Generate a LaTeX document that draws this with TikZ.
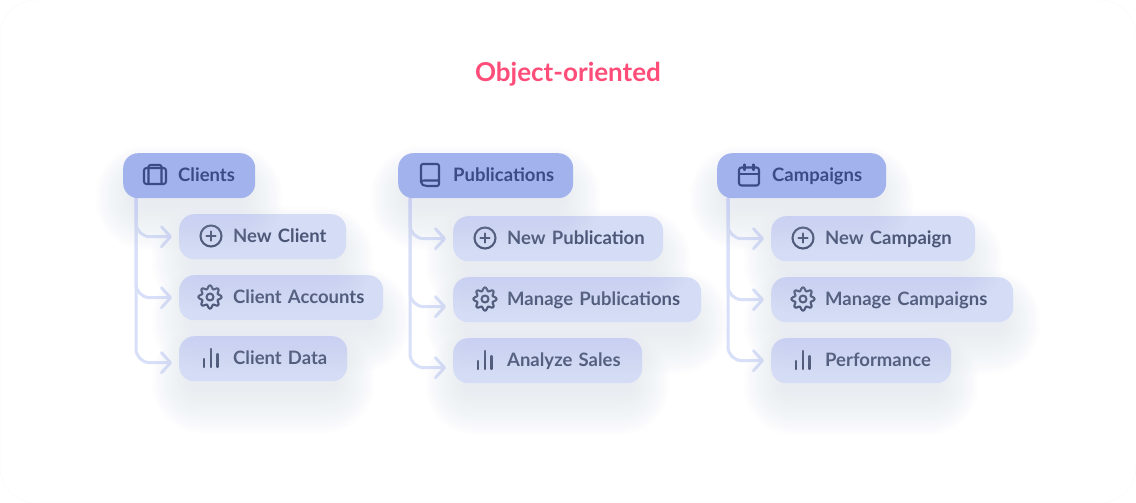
\documentclass[tikz,border=0pt]{standalone}
\usepackage{fontspec}
\setmainfont{Lato}
\usetikzlibrary{arrows.meta,backgrounds}
\definecolor{headfill}{HTML}{A2B2EC}
\definecolor{headink}{HTML}{3C4B86}
\definecolor{itemfill}{HTML}{D5DCF6}
\definecolor{itemink}{HTML}{4B5676}
\definecolor{branchblue}{HTML}{D8DFF8}
\definecolor{shadeblue}{HTML}{C8CFF2}
\definecolor{titlepink}{HTML}{FF4D79}
\tikzset{
  headbox/.style={fill=headfill, text=headink, rounded corners=15pt, anchor=north west,
    minimum height=45pt, inner xsep=0pt, inner ysep=0pt, text width=#1, align=left,
    text height=15pt, text depth=3pt, font=\fontsize{18.5}{20}\selectfont\bfseries,
    execute at begin node={\hspace*{55pt}}},
  itembox/.style={fill=itemfill, text=itemink, rounded corners=15pt, anchor=north west,
    minimum height=45pt, inner xsep=0pt, inner ysep=0pt, text width=#1, align=left,
    text height=15pt, text depth=3pt, font=\fontsize{18.5}{20}\selectfont\bfseries,
    execute at begin node={\hspace*{54pt}}},
  branch/.style={draw=branchblue, line width=3pt, rounded corners=14pt, line cap=round,
    -{Straight Barb[length=9pt,width=20pt,line width=3pt,round]}, shorten >=7pt},
  icon/.style={draw=itemink, line width=2.1pt, line cap=round, line join=round},
  headicon/.style={draw=headink, line width=2.1pt, line cap=round, line join=round},
  plusicon/.pic={
    \draw[icon] (0,0) circle (10.5);
    \draw[icon] (-4.5,0) -- (4.5,0) (0,-4.5) -- (0,4.5);
  },
  gearicon/.pic={
    \draw[icon, smooth, samples=96, domain=0:360] plot ({(9.9+1.7*cos(8*\x))*cos(\x)},{(9.9+1.7*cos(8*\x))*sin(\x)}) -- cycle;
    \draw[icon] (0,0) circle (3.5);
  },
  barsicon/.pic={
    \draw[icon] (-7,9) -- (-7,1) (0,9) -- (0,-9) (6.5,9) -- (6.5,-4);
  },
  caseicon/.pic={
    \draw[headicon, rounded corners=2.5pt] (-11,-7) rectangle (11,9);
    \draw[headicon, rounded corners=2pt] (-6.5,9) -- (-6.5,-10) -- (6.5,-10) -- (6.5,9);
  },
  bookicon/.pic={
    \draw[headicon, rounded corners=2pt] (-9,7) -- (-9,-11) -- (9,-11) -- (9,11) -- (-5,11) -- (-9,9) -- (-9,7);
    \draw[headicon] (-9,7) .. controls (-9,6) and (-8,5.5) .. (-6,5.5) -- (9,5.5);
  },
  calicon/.pic={
    \draw[headicon, rounded corners=2.5pt] (-10,-7.5) rectangle (10,10.5);
    \draw[headicon] (-10,-1) -- (10,-1) (-4.5,-10.5) -- (-4.5,-5) (4.5,-10.5) -- (4.5,-5);
  },
}
% x, y and width of the box that gets the shade
\newcommand{\softshade}[3]{
  \foreach \r in {-10,-7,...,32}
    \fill[shadeblue, opacity=.025, rounded corners={(18+\r)*1pt}]
      ({#1-.85*\r},{#2+20-.85*\r}) rectangle ({#1+#3+.85*\r},{#2+65+\r});
}
\begin{document}
\begin{tikzpicture}[x=1pt,y=-1pt]
\useasboundingbox (0,0) rectangle (1136,503);
\node[text=titlepink, font=\fontsize{26}{30}\selectfont\bfseries] (title) at (568,74) {Object-oriented};

% first column
\softshade{179}{336}{168}
\node[itembox=168] (clientdata) at (179,336) {Client Data};
\pic at (211,358) {barsicon};
\softshade{179}{275}{204}
\node[itembox=204] (clientaccounts) at (179,275) {Client Accounts};
\pic at (210,297) {gearicon};
\softshade{179}{214}{167}
\node[itembox=167] (newclient) at (179,214) {New Client};
\pic at (211,236) {plusicon};
\softshade{123}{153}{132}
\node[headbox=132] (clients) at (123,153) {Clients};
\pic at (155,175) {caseicon};

% second column
\softshade{453}{338}{189}
\node[itembox=189] (analyzesales) at (453,338) {Analyze Sales};
\pic at (485,360) {barsicon};
\softshade{453}{277}{248}
\node[itembox=248] (managepubs) at (453,277) {Manage Publications};
\pic at (485,299) {gearicon};
\softshade{453}{216}{210}
\node[itembox=210] (newpub) at (453,216) {New Publication};
\pic at (485,238) {plusicon};
\softshade{398}{153}{175}
\node[headbox=175] (publications) at (398,153) {Publications};
\pic at (430,175) {bookicon};

% third column
\softshade{771}{338}{180}
\node[itembox=180] (performance) at (771,338) {Performance};
\pic at (803,360) {barsicon};
\softshade{771}{277}{242}
\node[itembox=242] (managecamps) at (771,277) {Manage Campaigns};
\pic at (803,299) {gearicon};
\softshade{771}{216}{204}
\node[itembox=204] (newcamp) at (771,216) {New Campaign};
\pic at (803,238) {plusicon};
\softshade{717}{153}{169}
\node[headbox=169] (campaigns) at (717,153) {Campaigns};
\pic at (749,175) {calicon};

% branches go behind the boxes
\begin{scope}[on background layer]
\draw[draw=black!2, fill=white, rounded corners=36pt, line width=.5pt] (0,0) rectangle (1136,503);
\draw[branch] (clients.south west -| 136,0) |- (newclient.west);
\draw[branch] (clients.south west -| 136,0) |- (clientaccounts.west);
\draw[branch] (clients.south west -| 136,0) |- ([yshift=-4pt]clientdata.west);
\draw[branch] (publications.south west -| 410,0) |- (newpub.west);
\draw[branch] (publications.south west -| 410,0) |- ([yshift=-7pt]managepubs.west);
\draw[branch] (publications.south west -| 410,0) |- ([yshift=-7pt]analyzesales.west);
\draw[branch] (campaigns.south west -| 728,0) |- (newcamp.west);
\draw[branch] (campaigns.south west -| 728,0) |- (managecamps.west);
\draw[branch] (campaigns.south west -| 728,0) |- (performance.west);
\end{scope}
\end{tikzpicture}
\end{document}
